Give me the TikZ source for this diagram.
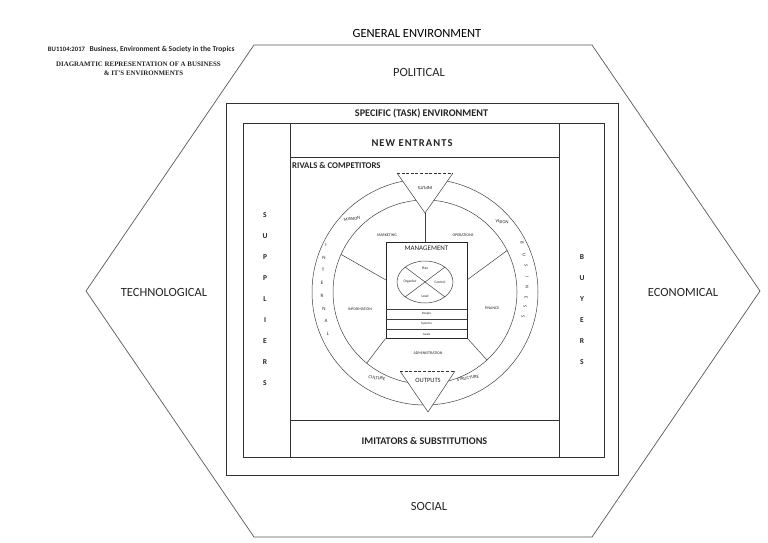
\documentclass[tikz,border=0pt]{standalone}
\usepackage{fontspec}
\setmainfont{Carlito}
\newfontfamily\hdrserif{Liberation Serif}
\usetikzlibrary{calc}
\begin{document}
\begin{tikzpicture}[x=1pt,y=-1pt,
  fs/.style={font=\fontsize{#1}{#1}\selectfont},
  fsb/.style={font=\fontsize{#1}{#1}\selectfont\bfseries},
  lbl/.style={inner sep=0pt, text=black!85},
  hexline/.style={draw=black!65, line width=0.7pt},
  boxline/.style={draw=black!80, line width=0.9pt},
  thin/.style={draw=black!75, line width=0.5pt},
  dashtop/.style={draw=black!80, line width=0.9pt, dash pattern=on 3pt off 1.6pt}]
\useasboundingbox (0,0) rectangle (768,543);
\fill[white] (0,0) rectangle (768,543);

% header
\node[lbl, fsb=6.7] (hcode) at (66.5,49) {BU1104:2017};
\node[lbl, fsb=7.5] (htitle) at (162,49) {Business, Environment \& Society in the Tropics};
\node[lbl, font=\hdrserif\fontsize{6.9}{6.9}\selectfont\bfseries] (hd1) at (138.5,64) {DIAGRAMTIC REPRESENTATION OF A BUSINESS};
\node[lbl, font=\hdrserif\fontsize{6.9}{6.9}\selectfont\bfseries] (hd2) at (143.5,73) {\& IT'S ENVIRONMENTS};

% general environment hexagon
\draw[hexline] (254,45) -- (592,45) -- (760,291) -- (592,537) -- (254,537) -- (86,291) -- cycle;
\node[lbl, fs=12.5, text=black] (gen) at (417,33) {GENERAL ENVIRONMENT};
\node[lbl, fs=12.5] (pol) at (419,72) {POLITICAL};
\node[lbl, fs=12.5] (tech) at (164,292) {TECHNOLOGICAL};
\node[lbl, fs=12.5] (eco) at (683,292) {ECONOMICAL};
\node[lbl, fs=12.5] (soc) at (429,506) {SOCIAL};

% specific environment
\draw[boxline] (226,103) rectangle (618,475);
\node[lbl, fsb=10.2] (spec) at (421.5,113) {SPECIFIC (TASK) ENVIRONMENT};
\draw[boxline] (243,123) rectangle (604,457);
\draw[boxline] (290,123) -- (290,457);
\draw[boxline] (559,123) -- (559,457);
\draw[boxline] (290,157) -- (559,157);
\draw[boxline] (290,420) -- (559,420);
\node[lbl, font=\fontsize{10.5}{10.5}\selectfont\bfseries\addfontfeatures{LetterSpace=10}] (newent) at (412,143) {NEW ENTRANTS};
\node[lbl, fsb=10.2] (imit) at (424.5,441) {IMITATORS \& SUBSTITUTIONS};
\node[lbl, fsb=8.8, anchor=west] (rivals) at (292,165) {RIVALS \& COMPETITORS};

\foreach \ch [count=\i from 0] in {S,U,P,P,L,I,E,R,S}
  \node[lbl, fsb=7.5] (sup\i) at (265,{215+21*\i}) {\ch};
\foreach \ch [count=\i from 0] in {B,U,Y,E,R,S}
  \node[lbl, fsb=7.5] (buy\i) at (582,{257+21*\i}) {\ch};

% business circles
\coordinate (c) at (425,292);
\draw[thin] (c) circle [radius=113];
\draw[thin] (c) circle [radius=92];

% management box
\node[draw=black!85, line width=0.9pt, minimum width=81pt, minimum height=96pt, inner sep=0pt] (mgmt) at (426.5,290) {};
\node[lbl, fs=7] (mgt) at (426.5,248.5) {MANAGEMENT};
\coordinate (e) at (425,282);
\draw[thin] (e) ellipse [x radius=28, y radius=21];
\draw[thin] ($(e)+(19.8,14.85)$) -- ($(e)+(-19.8,-14.85)$);
\draw[thin] ($(e)+(-19.8,14.85)$) -- ($(e)+(19.8,-14.85)$);
\node[lbl, fs=3.6] (plan) at (425,268) {Plan};
\node[lbl, fs=3.6] (org) at (410,282) {Organise};
\node[lbl, fs=3.6] (ctrl) at (440,282) {Control};
\node[lbl, fs=3.6] (lead) at (425,296) {Lead};
\draw[thin] (mgmt.west |- 0,309) -- (mgmt.east |- 0,309);
\draw[thin] (mgmt.west |- 0,319) -- (mgmt.east |- 0,319);
\draw[thin] (mgmt.west |- 0,329) -- (mgmt.east |- 0,329);
\node[lbl, fs=3.3] (people) at (426.5,314) {People};
\node[lbl, fs=3.3] (systems) at (426.5,324) {Systems};
\node[lbl, fs=3.3] (goals) at (426.5,334) {Goals};

% spokes
\coordinate (sUL) at (341,254.4);
\coordinate (sUR) at (507.1,250.5);
\coordinate (sLL) at (366.7,363.2);
\coordinate (sLR) at (487,360);
\coordinate (bUL) at (386,280);
\coordinate (bUR) at (467,280);
\draw[thin] (sUL) -- (bUL);
\draw[thin] (sUR) -- (bUR);
\draw[thin] (sLL) -- (mgmt.south west);
\draw[thin] (sLR) -- (mgmt.south east);

% sector labels
\node[lbl, fs=4] (mkt) at (387,235) {MARKETING};
\node[lbl, fs=4] (ops) at (463,235) {OPERATIONS};
\node[lbl, fs=4] (info) at (360,309) {INFORMATION};
\node[lbl, fs=4] (fin) at (492,308) {FINANCE};
\node[lbl, fs=4] (adm) at (428,353) {ADMINISTRATION};

% ring labels
\node[lbl, fs=4.6, rotate=7] (mission) at (352,219) {MISSION};
\node[lbl, fs=4.6, rotate=-7] (vision) at (502,222) {VISION};
\node[lbl, fs=4.6, rotate=-8] (culture) at (377,378) {CULTURE};
\node[lbl, fs=4.6, rotate=8] (structure) at (468,378) {STRUCTURE};
\foreach \ch/\x/\y [count=\i] in {I/326/245,N/324/258,T/323/270,E/322/283,R/322/296,N/324/309,A/326/321,L/328/334}
  \node[lbl, fs=5] (int\i) at (\x,\y) {\ch};
\foreach \ch/\x/\y [count=\i] in {B/522/243,U/524/255,S/526/266,I/527/277,N/527/287,E/526/298,S/525/307,S/523/317}
  \node[lbl, fs=4.6, rotate=-90] (bus\i) at (\x,\y) {\ch};

% inputs triangle
\coordinate (inL) at (397,173);
\coordinate (inR) at (453,173);
\coordinate (inA) at (425,213);
\fill[white] (inL) -- (inR) -- (inA) -- cycle;
\draw[thin] (inL) -- (inA) -- (inR);
\draw[dashtop] (inL) -- (inR);
\node[lbl, fs=4.8, rotate=180] (inputs) at (425,188) {INPUTS};
\draw[thin] (inA) -- (mgmt.north -| inA);

% outputs triangle
\coordinate (outL) at (400,371);
\coordinate (outR) at (455,371);
\coordinate (outA) at (428,412);
\fill[white] (outL) -- (outR) -- (outA) -- cycle;
\draw[thin] (outL) -- (outA) -- (outR);
\draw[dashtop] (outL) -- (outR);
\node[lbl, fs=6.5] (outputs) at (428,380) {OUTPUTS};
\end{tikzpicture}
\end{document}
